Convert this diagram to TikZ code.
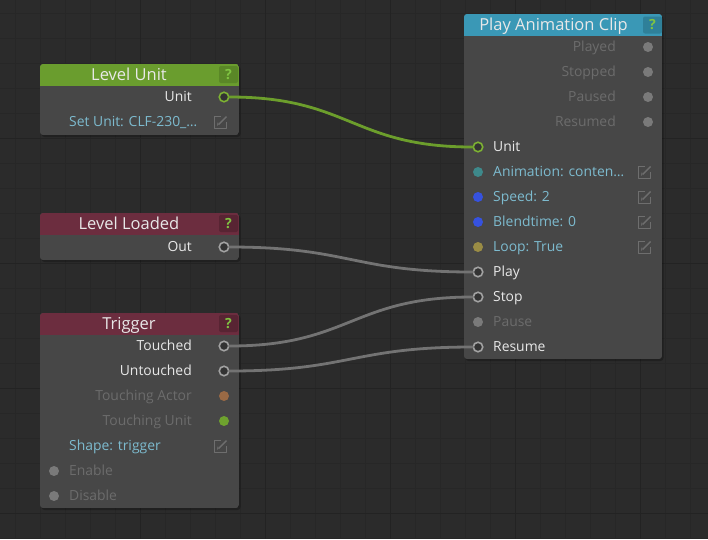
\documentclass[tikz,border=0pt]{standalone}
\usepackage{fontspec}
\setmainfont{Open Sans}
\definecolor{bg}{HTML}{2B2B2B}
\definecolor{gridminor}{HTML}{272727}
\definecolor{gridmajor}{HTML}{232323}
\definecolor{bodyc}{HTML}{474747}
\definecolor{hgreen}{HTML}{6A9D2E}
\definecolor{hmaroon}{HTML}{6C2D3F}
\definecolor{hteal}{HTML}{3A98B6}
\definecolor{qgreen}{HTML}{5A8727}
\definecolor{qmaroon}{HTML}{582433}
\definecolor{qteal}{HTML}{2F8099}
\definecolor{qmark}{HTML}{80C442}
\definecolor{txt}{HTML}{E8E8E8}
\definecolor{dimtxt}{HTML}{6C6C6C}
\definecolor{bluetxt}{HTML}{7DBBCF}
\definecolor{ring}{HTML}{A2A2A2}
\definecolor{gring}{HTML}{7DB233}
\definecolor{portfill}{HTML}{333333}
\definecolor{dimdot}{HTML}{7A7A7A}
\definecolor{browndot}{HTML}{9A6A45}
\definecolor{greendot}{HTML}{6EA22E}
\definecolor{tealdot}{HTML}{3E898B}
\definecolor{bluedot}{HTML}{3652DF}
\definecolor{olivedot}{HTML}{9A8C45}
\definecolor{editc}{HTML}{6E6E6E}
\definecolor{wiregray}{HTML}{737373}
\definecolor{wiregreen}{HTML}{6C9E2C}
\newcommand\fsbody{\fontsize{13.9}{16}\selectfont}
\newcommand\fshead{\fontsize{16.5}{19}\selectfont}
\newcommand\editic[3]{%
  \node[inner sep=0, minimum size=14pt] (#1) at (#2,#3) {};
  \draw[editc, line width=1pt, line join=round]
    ([shift={(1,-6)}]#1.center) -- ([shift={(-6,-6)}]#1.center) --
    ([shift={(-6,6)}]#1.center) -- ([shift={(6,6)}]#1.center) -- ([shift={(6,0)}]#1.center);
  \draw[editc, line width=1.4pt]
    ([shift={(-1.5,2.5)}]#1.center) -- ([shift={(6.5,-5.5)}]#1.center);
  \draw[editc, line width=0.8pt]
    ([shift={(-2.5,3.5)}]#1.center) -- ([shift={(-2,0.5)}]#1.center);
}
\newcommand\nodebody[5]{% x1 y1 x2 y2 headercolor ; header height 22
  \fill[black, opacity=0.25, rounded corners=3pt] (#1+1.5,#2+2) rectangle (#3+1.5,#4+2);
  \begin{scope}
    \clip[rounded corners=3pt] (#1,#2) rectangle (#3,#4);
    \fill[bodyc] (#1,#2) rectangle (#3,#4);
    \fill[#5] (#1,#2) rectangle (#3,#2+22);
  \end{scope}
}
\begin{document}
\begin{tikzpicture}[x=1pt,y=-1pt,
  rl/.style={anchor=east, inner sep=0, text height=9.6pt, text depth=3pt, yshift=-1.5pt, font=\fsbody, text=txt},
  ll/.style={anchor=west, inner sep=0, text height=9.6pt, text depth=3pt, yshift=-1.5pt, font=\fsbody, text=txt},
  hdr/.style={inner sep=0, text height=11.5pt, text depth=3.5pt, yshift=-1pt, font=\fshead, text=txt},
  portc/.style={circle, inner sep=0, minimum size=9.5pt, line width=1.6pt, draw=ring, fill=portfill},
  gportc/.style={portc, draw=gring},
  dotn/.style={circle, inner sep=0, minimum size=10pt, fill=#1, draw=none},
  qbox/.style={fill=#1, rounded corners=2pt, minimum width=19pt, minimum height=17pt, inner sep=0,
    text=qmark, font=\bfseries\fontsize{14}{16}\selectfont},
  wire/.style={line width=2.8pt, draw=#1, line cap=round},
]
\useasboundingbox (0,0) rectangle (708,539);
\fill[bg] (0,0) rectangle (708,539);
\foreach \x in {15,40,...,708} \draw[gridminor, line width=1pt] (\x,0) -- (\x,539);
\foreach \y in {13.5,38.5,...,539} \draw[gridminor, line width=1pt] (0,\y) -- (708,\y);
\foreach \x in {140,265,390,515,640} \draw[gridmajor, line width=1pt] (\x,0) -- (\x,539);
\foreach \y in {138.5,263.5,388.5,513.5} \draw[gridmajor, line width=1pt] (0,\y) -- (708,\y);

% ---------- Level Unit ----------
\nodebody{40}{64}{239}{135}{hgreen}
\node[hdr] (lu-title) at (129,75) {Level Unit};
\node[qbox=qgreen] (lu-q) at (228.5,74.5) {?};
\node[rl] (lu-unit-l) at (192,97) {Unit};
\node[gportc] (lu-unit) at (224,97) {};
\node[ll, text=bluetxt] (lu-set) at (69,122) {Set Unit: CLF-230\_…};
\editic{lu-edit}{220}{122}

% ---------- Level Loaded ----------
\nodebody{40}{213}{239}{260}{hmaroon}
\node[hdr] (ld-title) at (129,224) {Level Loaded};
\node[qbox=qmaroon] (ld-q) at (228.5,223.5) {?};
\node[rl] (ld-out-l) at (192,247) {Out};
\node[portc] (ld-out) at (224,247) {};

% ---------- Trigger ----------
\nodebody{40}{313}{239}{508}{hmaroon}
\node[hdr] (tr-title) at (129,324) {Trigger};
\node[qbox=qmaroon] (tr-q) at (228.5,323.5) {?};
\node[rl] (tr-touched-l) at (192,346) {Touched};
\node[portc] (tr-touched) at (224,346) {};
\node[rl] (tr-untouched-l) at (192,371) {Untouched};
\node[portc] (tr-untouched) at (224,371) {};
\node[rl, text=dimtxt] (tr-actor-l) at (192,396) {Touching Actor};
\node[dotn=browndot] (tr-actor) at (224,396) {};
\node[rl, text=dimtxt] (tr-unit-l) at (192,421) {Touching Unit};
\node[dotn=greendot] (tr-unit) at (224,421) {};
\node[ll, text=bluetxt] (tr-shape) at (69,446) {Shape: trigger};
\editic{tr-edit}{220}{446}
\node[dotn=dimdot] (tr-enable) at (54,471) {};
\node[ll, text=dimtxt] (tr-enable-l) at (69,471) {Enable};
\node[dotn=dimdot] (tr-disable) at (54,496) {};
\node[ll, text=dimtxt] (tr-disable-l) at (69,496) {Disable};

% ---------- Play Animation Clip ----------
\nodebody{464}{14}{662}{359}{hteal}
\node[hdr] (pa-title) at (553.5,25) {Play Animation Clip};
\node[qbox=qteal] (pa-q) at (652.5,25) {?};
\node[rl, text=dimtxt] (pa-played-l) at (616,47) {Played};
\node[dotn=dimdot] (pa-played) at (648,47) {};
\node[rl, text=dimtxt] (pa-stopped-l) at (616,72) {Stopped};
\node[dotn=dimdot] (pa-stopped) at (648,72) {};
\node[rl, text=dimtxt] (pa-paused-l) at (616,97) {Paused};
\node[dotn=dimdot] (pa-paused) at (648,97) {};
\node[rl, text=dimtxt] (pa-resumed-l) at (616,122) {Resumed};
\node[dotn=dimdot] (pa-resumed) at (648,122) {};
\node[gportc] (pa-unit) at (478,147) {};
\node[ll] (pa-unit-l) at (493,147) {Unit};
\node[dotn=tealdot] (pa-anim) at (478,172) {};
\node[ll, text=bluetxt] (pa-anim-l) at (493,172) {Animation: conten…};
\editic{pa-anim-e}{644}{172}
\node[dotn=bluedot] (pa-speed) at (478,197) {};
\node[ll, text=bluetxt] (pa-speed-l) at (493,197) {Speed: 2};
\editic{pa-speed-e}{644}{197}
\node[dotn=bluedot] (pa-blend) at (478,222) {};
\node[ll, text=bluetxt] (pa-blend-l) at (493,222) {Blendtime: 0};
\editic{pa-blend-e}{644}{222}
\node[dotn=olivedot] (pa-loop) at (478,247) {};
\node[ll, text=bluetxt] (pa-loop-l) at (493,247) {Loop: True};
\editic{pa-loop-e}{644}{247}
\node[portc] (pa-play) at (478,272) {};
\node[ll] (pa-play-l) at (493,272) {Play};
\node[portc] (pa-stop) at (478,297) {};
\node[ll] (pa-stop-l) at (493,297) {Stop};
\node[dotn=dimdot] (pa-pause) at (478,322) {};
\node[ll, text=dimtxt] (pa-pause-l) at (493,322) {Pause};
\node[portc] (pa-resume) at (478,347) {};
\node[ll] (pa-resume-l) at (493,347) {Resume};

% ---------- wires ----------
\draw[wire=wiregreen] (lu-unit.east) to[out=0,in=180,distance=120] (pa-unit.west);
\draw[wire=wiregray] (ld-out.east) to[out=0,in=180,distance=120] (pa-play.west);
\draw[wire=wiregray] (tr-touched.east) to[out=0,in=180,distance=120] (pa-stop.west);
\draw[wire=wiregray] (tr-untouched.east) to[out=0,in=180,distance=120] (pa-resume.west);
\end{tikzpicture}
\end{document}
